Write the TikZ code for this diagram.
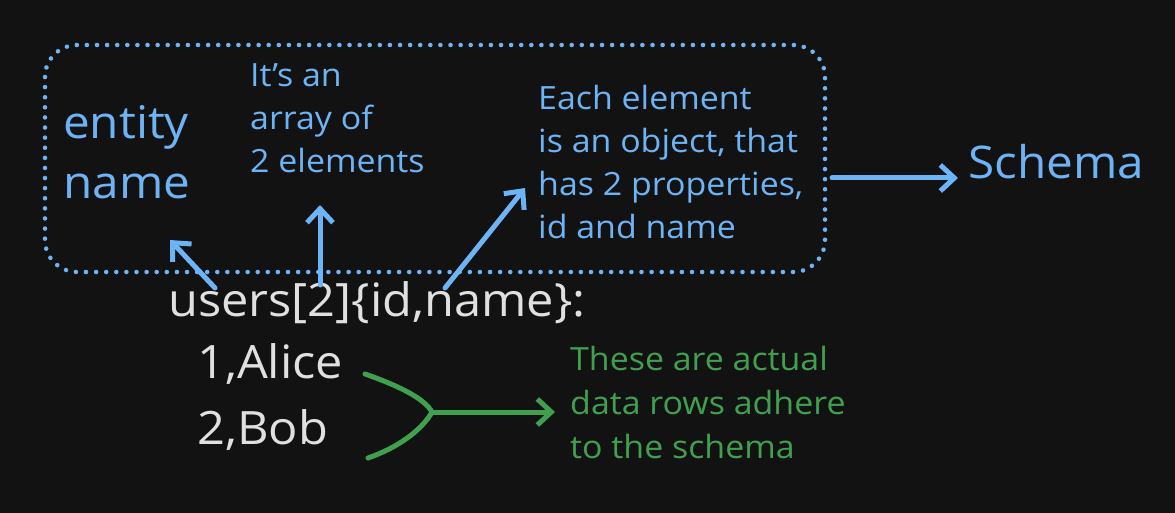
\documentclass[tikz,border=0pt]{standalone}
\usepackage{fontspec}
\setmainfont{Open Sans}[FakeStretch=1.06]
\usetikzlibrary{arrows.meta}
\definecolor{bg}{HTML}{121212}
\definecolor{sky}{HTML}{6CB4F5}
\definecolor{grn}{HTML}{3FA14F}
\definecolor{txt}{HTML}{E0E0E0}
\tikzset{
  blue/.style={draw=sky,line width=5pt,line cap=round,-{Straight Barb[length=14pt,width=26pt,line width=5pt]}},
  greenln/.style={draw=grn,line width=5pt,line cap=round},
  lbl/.style={anchor=north west,align=left,inner sep=0pt},
}
\begin{document}
\begin{tikzpicture}[x=1pt,y=-1pt]
\fill[bg] (0,0) rectangle (1175,513);
\useasboundingbox (0,0) rectangle (1175,513);
\draw[sky,line width=4.5pt,dash pattern=on 0.1pt off 10pt,line cap=round,rounded corners=32pt] (45,45) rectangle (825,272);
\node[lbl,text=sky,font=\fontsize{45}{60}\selectfont] (ent) at (63,105) {entity\\name};
\node[lbl,text=sky,font=\fontsize{32}{43}\selectfont] (arr) at (250,63) {It's an\\array of\\2 elements};
\node[lbl,text=sky,font=\fontsize{32}{43}\selectfont] (each) at (538,85) {Each element\\is an object, that\\has 2 properties,\\id and name};
\node[lbl,text=sky,font=\fontsize{45}{48}\selectfont] (sch) at (968,144) {Schema};
\node[lbl,text=txt,font=\fontsize{46}{50}\selectfont] (usr) at (168,281) {users[2]\{id,name\}:};
\node[lbl,text=txt,font=\fontsize{46}{66}\selectfont] (rows) at (197,343) {1,Alice\\2,Bob};
\node[lbl,text=grn,font=\fontsize{32}{44}\selectfont] (note) at (570,346) {These are actual\\data rows adhere\\to the schema};
\coordinate (b1) at (832,178); \coordinate (b2) at (958,178);
\draw[blue] (b1) -- (b2);
\coordinate (a1s) at (215,288); \coordinate (a1e) at (170,240);
\coordinate (a2s) at (320,285); \coordinate (a2e) at (320,205);
\coordinate (a3s) at (445,288); \coordinate (a3e) at (525,188);
\draw[blue] (a1s) -- (a1e);
\draw[blue] (a2s) -- (a2e);
\draw[blue] (a3s) -- (a3e);
\coordinate (g1) at (365,374); \coordinate (g2) at (368,458); \coordinate (gm) at (432,412); \coordinate (ge) at (555,412);
\draw[greenln] (g1) .. controls (405,388) and (425,400) .. (gm);
\draw[greenln] (g2) .. controls (405,445) and (425,425) .. (gm);
\draw[greenln,-{Straight Barb[length=14pt,width=26pt,line width=5pt]}] (gm) -- (ge);
\end{tikzpicture}
\end{document}
